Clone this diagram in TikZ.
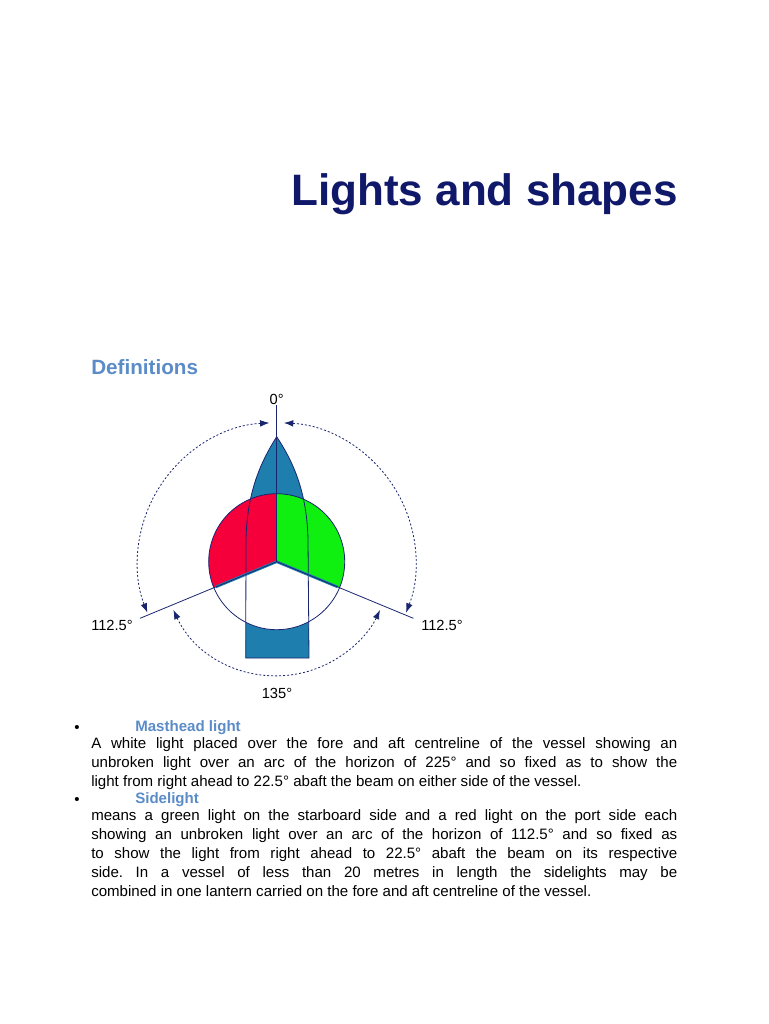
\documentclass[tikz,border=0pt]{standalone}
\usepackage{fontspec}
\setmainfont{Liberation Sans}
\usetikzlibrary{arrows.meta}
\definecolor{navy}{HTML}{10186A}
\definecolor{hull}{HTML}{1E7FAF}
\definecolor{lred}{HTML}{F5003A}
\definecolor{lgreen}{HTML}{10F010}
\definecolor{defblue}{HTML}{5B8CC8}
\definecolor{line}{HTML}{1A2570}
\tikzset{
  outl/.style={draw=line, line width=0.6pt},
  dasharc/.style={draw=line, dash pattern=on 1.5pt off 1.5pt, line width=0.6pt, {Latex[length=7pt,width=5pt]}-{Latex[length=7pt,width=5pt]}},
  lbl/.style={font=\fontsize{11}{13}\selectfont, inner sep=0pt},
  body/.style={font=\fontsize{11.3}{14.25}\selectfont, text width=439.5pt, align=justify, inner sep=0pt, anchor=north west},
  head/.style={font=\bfseries\fontsize{11.3}{14.25}\selectfont, text=defblue, inner sep=0pt, anchor=west},
  bul/.style={font=\fontsize{11.3}{14.25}\selectfont, inner sep=0pt}
}
\begin{document}
\begin{tikzpicture}[x=0.75pt,y=-0.75pt]
\useasboundingbox (0,0) rectangle (768,1024);
\fill[white] (0,0) rectangle (768,1024);
\node[anchor=base east, inner sep=0pt, text=navy, font=\bfseries\fontsize{33}{38}\selectfont] (title) at (678,205) {Lights and shapes};
\node[anchor=base west, inner sep=0pt, text=defblue, font=\bfseries\fontsize{15.5}{18}\selectfont] (defs) at (91,374) {Definitions};
\coordinate (c) at (276.7,561.7);
% hull
\fill[hull] (276.7,436.7) .. controls (262,460) and (247,490) .. (246,540) -- (245.7,658) -- (309,658) -- (308,540) .. controls (307,490) and (292,460) .. (276.7,436.7) -- cycle;
% lights
\fill[lred] (c) -- ++(-90:68) arc[start angle=-90,end angle=-202.5,radius=68] -- cycle;
\fill[lgreen] (c) -- ++(-90:68) arc[start angle=-90,end angle=22.5,radius=68] -- cycle;
\fill[white] (c) -- ++(-202.5:68) arc[start angle=-202.5,end angle=-337.5,radius=68] -- cycle;
\draw[outl] (276.7,436.7) .. controls (262,460) and (247,490) .. (246,540) -- (245.7,658) -- (309,658) -- (308,540) .. controls (307,490) and (292,460) .. (276.7,436.7);
\draw[outl] (c) circle[radius=68];
\draw[draw=hull, line width=2pt] (c) -- ++(-202.5:66);
\draw[draw=hull, line width=2pt] (c) -- ++(22.5:66);
% labels
\node[lbl, anchor=south] (zero) at (276.7,405) {0°};
\node[lbl, anchor=east] (pl) at (133,625) {112.5°};
\node[lbl, anchor=west] (pr) at (421,625) {112.5°};
\node[lbl, anchor=north] (ast) at (277,688) {135°};
% rays
\draw[outl] (zero.south) -- (c);
\draw[outl] (c) -- ++(-202.5:148) coordinate (rl);
\draw[outl] (c) -- ++(22.5:148) coordinate (rr);
% arcs
\draw[dasharc] (c) ++(-93:139) arc[start angle=-93,end angle=-201.5,radius=139];
\draw[dasharc] (c) ++(-87:139) arc[start angle=-87,end angle=21.5,radius=139];
\draw[dasharc] (c) ++(-205:114) arc[start angle=-205,end angle=-335,radius=114];
% text
\node[bul] (b1) at (77,729) {•};
\node[head] (h1) at (135,728) {Masthead light};
\node[body] (t1) at (91,737) {A white light placed over the fore and aft centreline of the vessel showing an\linebreak unbroken light over an arc of the horizon of 225° and so fixed as to show the\linebreak light from right ahead to 22.5° abaft the beam on either side of the vessel.};
\node[bul] (b2) at (77,801) {•};
\node[head] (h2) at (135,800) {Sidelight};
\node[body] (t2) at (91,809) {means a green light on the starboard side and a red light on the port side each\linebreak showing an unbroken light over an arc of the horizon of 112.5° and so fixed as\linebreak to show the light from right ahead to 22.5° abaft the beam on its respective\linebreak side.\ In a vessel of less than 20 metres in length the sidelights may be\linebreak combined in one lantern carried on the fore and aft centreline of the vessel.};
\end{tikzpicture}
\end{document}
